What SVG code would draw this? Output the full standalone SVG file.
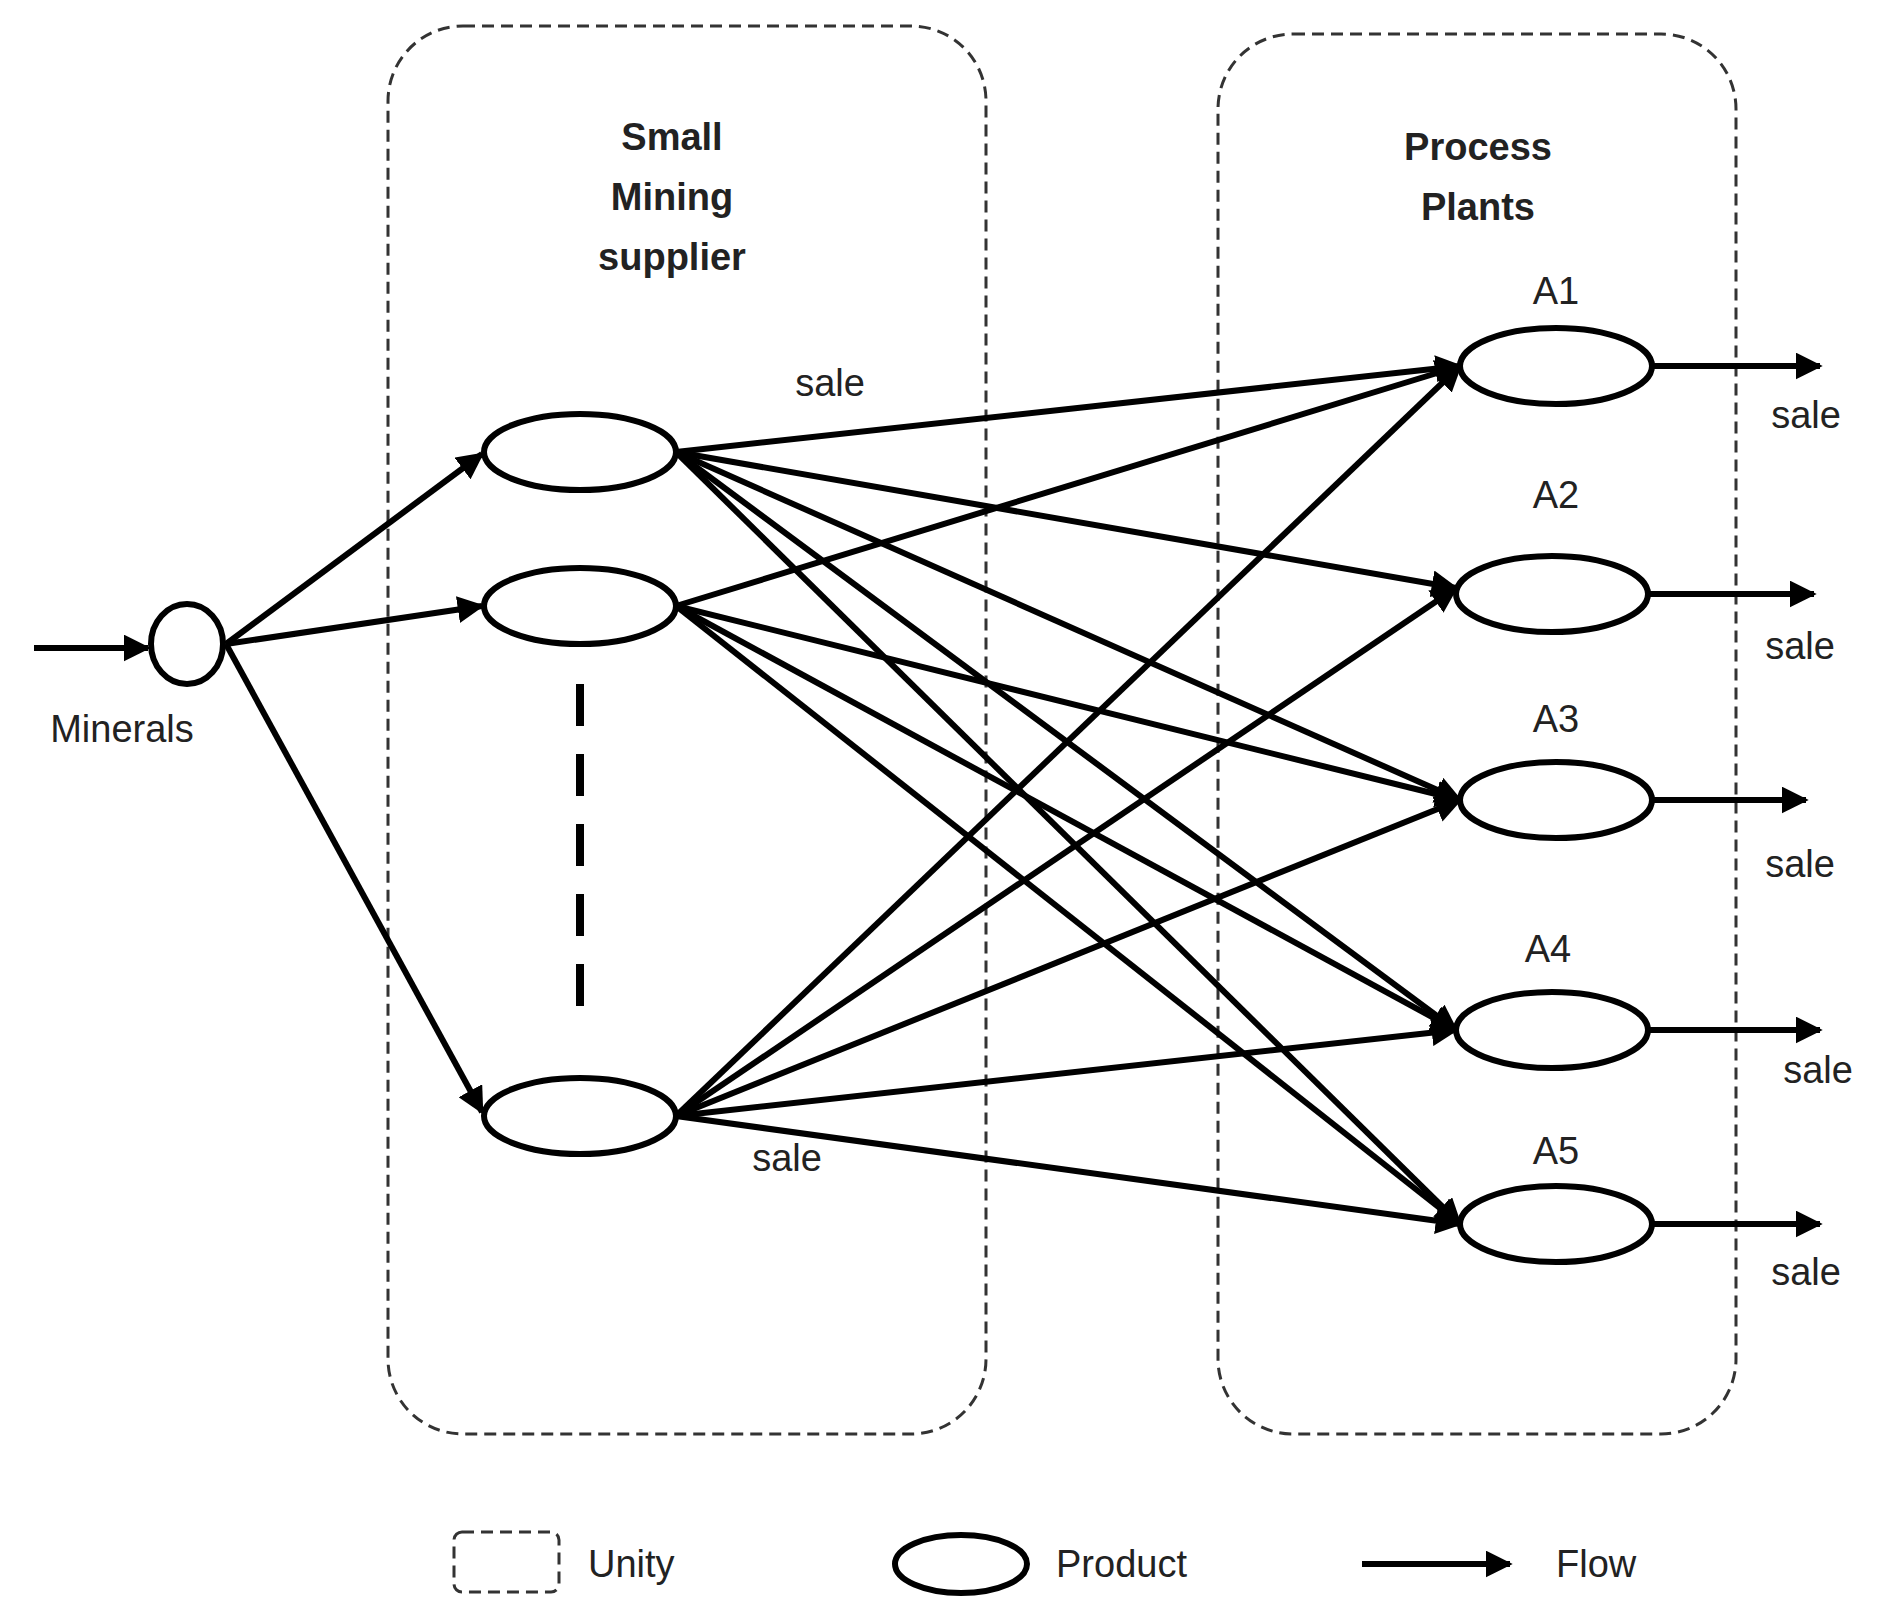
<svg xmlns="http://www.w3.org/2000/svg" width="1882" height="1623" viewBox="0 0 1882 1623">
<style>
text{font-family:"Liberation Sans",Arial,sans-serif;font-size:38px;fill:#222;text-anchor:middle}
.b{font-weight:bold}
.unit{fill:none;stroke:#333;stroke-width:3;stroke-dasharray:12 7}
.prod{fill:#fff;stroke:#000;stroke-width:6}
.e{stroke:#000;stroke-width:6;fill:none;marker-end:url(#ah)}
</style>
<defs>
<marker id="ah" viewBox="0 0 10 10" refX="9" refY="5" markerWidth="4.5" markerHeight="4.5" markerUnits="strokeWidth" orient="auto"><path d="M0,0 L10,5 L0,10 z" fill="#000"/></marker>
</defs>
<rect width="1882" height="1623" fill="#fff"/>
<g id="unit-supplier"><rect class="unit" x="388" y="26" width="598" height="1408" rx="75"/>
<text class="b" x="672" y="150">Small</text><text class="b" x="672" y="210">Mining</text><text class="b" x="672" y="270">supplier</text></g>
<g id="unit-plants"><rect class="unit" x="1218" y="34" width="518" height="1400" rx="75"/>
<text class="b" x="1478" y="160">Process</text><text class="b" x="1478" y="220">Plants</text></g>
<g id="connectors">
<line class="e" x1="34" y1="648" x2="148" y2="648"/>
<line class="e" x1="226" y1="644" x2="482" y2="454"/>
<line class="e" x1="226" y1="644" x2="482" y2="606"/>
<line class="e" x1="226" y1="644" x2="482" y2="1112"/>
<line class="e" x1="676" y1="452" x2="1460" y2="366"/>
<line class="e" x1="676" y1="452" x2="1456" y2="588"/>
<line class="e" x1="676" y1="452" x2="1460" y2="800"/>
<line class="e" x1="676" y1="452" x2="1456" y2="1030"/>
<line class="e" x1="676" y1="452" x2="1460" y2="1224"/>
<line class="e" x1="676" y1="606" x2="1460" y2="366"/>
<line class="e" x1="676" y1="606" x2="1460" y2="800"/>
<line class="e" x1="676" y1="606" x2="1456" y2="1030"/>
<line class="e" x1="676" y1="606" x2="1460" y2="1224"/>
<line class="e" x1="676" y1="1116" x2="1460" y2="366"/>
<line class="e" x1="676" y1="1116" x2="1456" y2="588"/>
<line class="e" x1="676" y1="1116" x2="1460" y2="800"/>
<line class="e" x1="676" y1="1116" x2="1456" y2="1030"/>
<line class="e" x1="676" y1="1116" x2="1460" y2="1224"/>
<line class="e" x1="1652" y1="366" x2="1820" y2="366"/>
<line class="e" x1="1648" y1="594" x2="1814" y2="594"/>
<line class="e" x1="1652" y1="800" x2="1806" y2="800"/>
<line class="e" x1="1648" y1="1030" x2="1820" y2="1030"/>
<line class="e" x1="1652" y1="1224" x2="1820" y2="1224"/>
<line x1="580" y1="684" x2="580" y2="1008" stroke="#000" stroke-width="8" stroke-dasharray="42 28"/>
</g>
<g id="minerals"><ellipse class="prod" cx="187" cy="644" rx="36" ry="40"/><text x="122" y="742">Minerals</text></g>
<g id="s1"><ellipse class="prod" cx="580" cy="452" rx="96" ry="38"/></g>
<g id="s2"><ellipse class="prod" cx="580" cy="606" rx="96" ry="38"/></g>
<g id="s3"><ellipse class="prod" cx="580" cy="1116" rx="96" ry="38"/></g>
<text x="830" y="396">sale</text><text x="787" y="1171">sale</text>
<g id="a1"><ellipse class="prod" cx="1556" cy="366" rx="96" ry="38"/><text x="1556" y="304">A1</text><text x="1806" y="428">sale</text></g>
<g id="a2"><ellipse class="prod" cx="1552" cy="594" rx="96" ry="38"/><text x="1556" y="508">A2</text><text x="1800" y="659">sale</text></g>
<g id="a3"><ellipse class="prod" cx="1556" cy="800" rx="96" ry="38"/><text x="1556" y="732">A3</text><text x="1800" y="877">sale</text></g>
<g id="a4"><ellipse class="prod" cx="1552" cy="1030" rx="96" ry="38"/><text x="1548" y="962">A4</text><text x="1818" y="1083">sale</text></g>
<g id="a5"><ellipse class="prod" cx="1556" cy="1224" rx="96" ry="38"/><text x="1556" y="1164">A5</text><text x="1806" y="1285">sale</text></g>
<g id="legend">
<rect class="unit" x="454" y="1532" width="105" height="60" rx="8"/><text x="588" y="1577" style="text-anchor:start">Unity</text>
<ellipse class="prod" cx="961" cy="1564" rx="66" ry="29"/><text x="1056" y="1577" style="text-anchor:start">Product</text>
<line class="e" x1="1362" y1="1564" x2="1510" y2="1564"/><text x="1556" y="1577" style="text-anchor:start">Flow</text>
</g>
</svg>
